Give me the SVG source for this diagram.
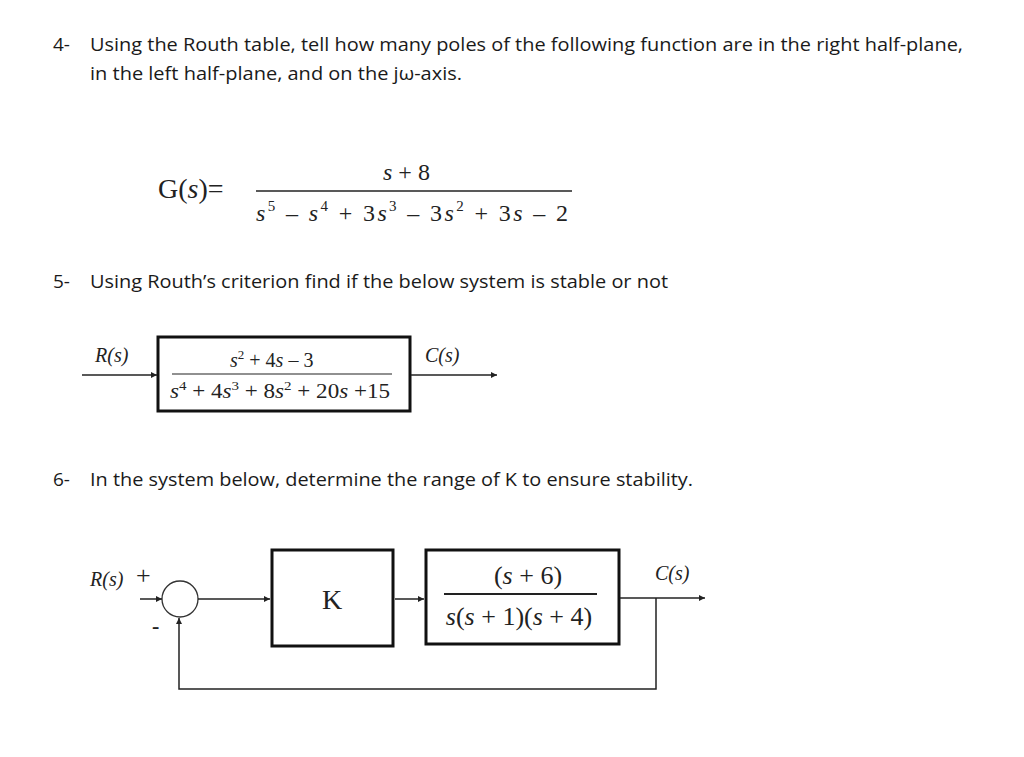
<svg xmlns="http://www.w3.org/2000/svg" width="1024" height="757" viewBox="0 0 1024 757">
<defs>
<style>
.t{font-family:"Open Sans","Liberation Sans",sans-serif;font-size:19px;fill:#1a1a1a}
.m{font-family:"Liberation Serif","Times New Roman",serif;fill:#222}
tspan.i,text.i{font-style:italic}
.ln{stroke:#222;stroke-width:1.5;fill:none}
.bx{stroke:#111;stroke-width:3;fill:#fff}
</style>
<marker id="a" viewBox="0 0 10 10" refX="10" refY="5" markerWidth="9" markerHeight="6" orient="auto" markerUnits="userSpaceOnUse"><path d="M0,0L10,5L0,10z" fill="#222"/></marker>
</defs>
<rect width="1024" height="757" fill="#fff"/>
<text class="t" x="53" y="51">4-</text>
<text class="t" x="90" y="51" textLength="873" lengthAdjust="spacingAndGlyphs">Using the Routh table, tell how many poles of the following function are in the right half-plane,</text>
<text class="t" x="90" y="80" textLength="372" lengthAdjust="spacingAndGlyphs">in the left half-plane, and on the jω-axis.</text>
<g id="gs">
<text class="m" x="158" y="198" font-size="28">G(<tspan font-style="italic">s</tspan>)=</text>
<text class="m" x="383" y="180" font-size="24"><tspan font-style="italic">s</tspan> + 8</text>
<line x1="256" y1="191" x2="572" y2="191" stroke="#222" stroke-width="1.5"/>
<text class="m" x="256" y="221" font-size="24" textLength="312" lengthAdjust="spacing"><tspan font-style="italic">s</tspan><tspan font-size="15" dy="-10">5</tspan><tspan dy="10"> – </tspan><tspan font-style="italic">s</tspan><tspan font-size="15" dy="-10">4</tspan><tspan dy="10"> + 3</tspan><tspan font-style="italic">s</tspan><tspan font-size="15" dy="-10">3</tspan><tspan dy="10"> – 3</tspan><tspan font-style="italic">s</tspan><tspan font-size="15" dy="-10">2</tspan><tspan dy="10"> + 3</tspan><tspan font-style="italic">s</tspan><tspan> – 2</tspan></text>
</g>
<text class="t" x="53" y="288">5-</text>
<text class="t" x="90" y="288" textLength="578" lengthAdjust="spacingAndGlyphs">Using Routh’s criterion find if the below system is stable or not</text>
<g id="b5">
<rect class="bx" x="158" y="337" width="252" height="74" stroke-width="2.5"/>
<text class="m" x="230" y="367" font-size="20"><tspan font-style="italic">s</tspan><tspan font-size="13" dy="-8">2</tspan><tspan dy="8"> + 4</tspan><tspan font-style="italic">s</tspan><tspan> – 3</tspan></text>
<line x1="172" y1="374" x2="392" y2="374" stroke="#222" stroke-width="1.2"/>
<text class="m" x="170" y="398" font-size="20" textLength="220" lengthAdjust="spacingAndGlyphs"><tspan font-style="italic">s</tspan><tspan font-size="13" dy="-8">4</tspan><tspan dy="8"> + 4</tspan><tspan font-style="italic">s</tspan><tspan font-size="13" dy="-8">3</tspan><tspan dy="8"> + 8</tspan><tspan font-style="italic">s</tspan><tspan font-size="13" dy="-8">2</tspan><tspan dy="8"> + 20</tspan><tspan font-style="italic">s</tspan><tspan> +15</tspan></text>
</g>
<text class="m" font-style="italic" x="95" y="362" font-size="20">R(s)</text>
<text class="m" font-style="italic" x="425" y="362" font-size="20">C(s)</text>
<text class="t" x="53" y="486">6-</text>
<text class="t" x="90" y="486" textLength="603" lengthAdjust="spacingAndGlyphs">In the system below, determine the range of K to ensure stability.</text>
<g id="sum"><circle cx="180" cy="599" r="18" fill="#fff" stroke="#333" stroke-width="1.3"/></g>
<g id="kbox"><rect class="bx" x="272" y="550" width="121" height="96"/>
<text class="m" x="332" y="609" font-size="28" text-anchor="middle">K</text></g>
<g id="plant"><rect class="bx" x="426" y="550" width="193" height="94"/>
<text class="m" x="528" y="584" font-size="26" text-anchor="middle">(<tspan font-style="italic">s</tspan> + 6)</text>
<line x1="444" y1="594" x2="597" y2="594" stroke="#222" stroke-width="2"/>
<text class="m" x="519" y="625" font-size="26" text-anchor="middle"><tspan font-style="italic">s</tspan>(<tspan font-style="italic">s</tspan> + 1)(<tspan font-style="italic">s</tspan> + 4)</text></g>
<text class="m" font-style="italic" x="90" y="586" font-size="20">R(s)</text>
<text class="m" x="136" y="584" font-size="26">+</text>
<text class="m" x="152" y="633" font-size="22" font-weight="bold">-</text>
<text class="m" font-style="italic" x="655" y="580" font-size="20">C(s)</text>
<g id="connectors">
<line class="ln" x1="82" y1="375" x2="157" y2="375" marker-end="url(#a)"/>
<line class="ln" x1="411" y1="375" x2="497" y2="375" marker-end="url(#a)"/>
<line class="ln" x1="140" y1="599" x2="162" y2="599" marker-end="url(#a)"/>
<line class="ln" x1="198" y1="599" x2="270" y2="599" marker-end="url(#a)"/>
<line class="ln" x1="395" y1="599" x2="424" y2="599" marker-end="url(#a)"/>
<line class="ln" x1="620" y1="598" x2="705" y2="598" marker-end="url(#a)"/>
<polyline class="ln" points="656,598 656,689 179,689 179,618" marker-end="url(#a)"/>
</g>
</svg>
